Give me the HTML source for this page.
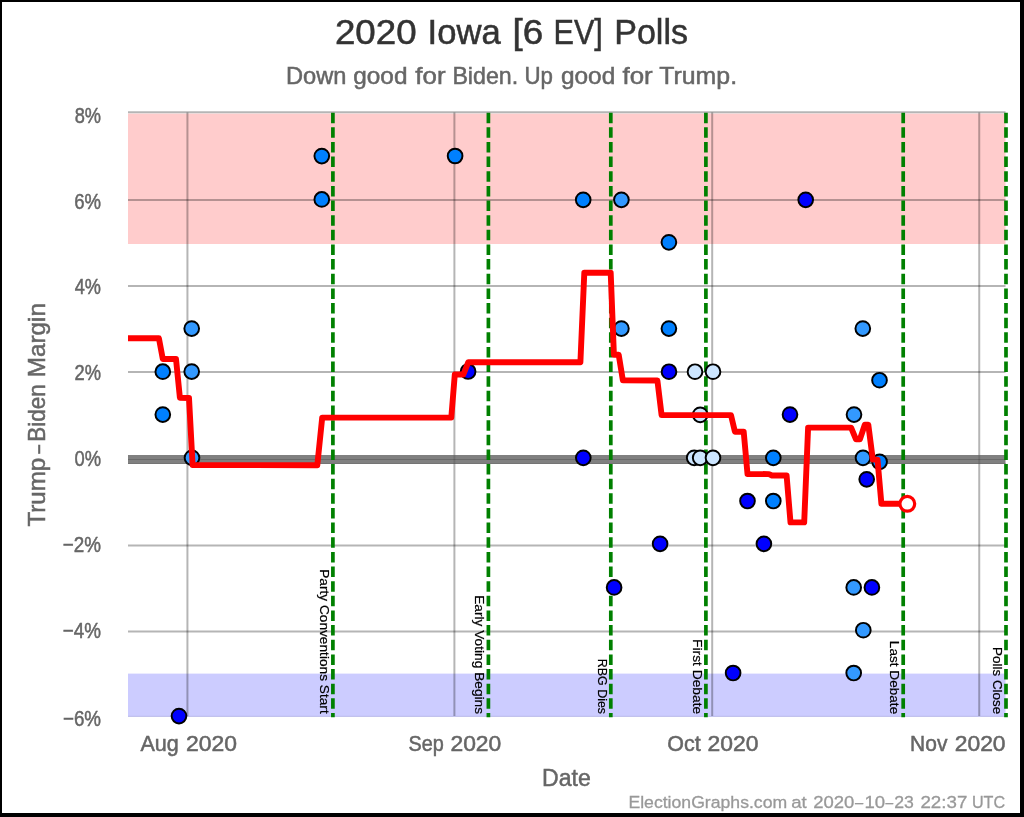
<!DOCTYPE html><html><head><meta charset="utf-8"><style>html,body{margin:0;padding:0;background:#fff;width:1024px;height:817px;overflow:hidden}svg{display:block;will-change:transform;font-family:"Liberation Sans",sans-serif}</style></head><body>
<svg width="1024" height="817" viewBox="0 0 1024 817">
<rect x="0" y="0" width="1024" height="817" fill="#fff"/>
<rect x="128" y="113.6" width="877.5" height="130.4" fill="rgba(255,0,0,0.2)"/>
<rect x="128" y="673.6" width="877.5" height="43.299999999999955" fill="rgba(0,0,255,0.2)"/>
<rect x="128" y="455" width="877.5" height="9" fill="#808080"/>
<rect x="128" y="459" width="877.5" height="1" fill="#6a6a6a"/>
<rect x="128" y="463" width="877.5" height="1" fill="#747474"/>
<line x1="128" y1="200.0" x2="1005.5" y2="200.0" stroke="rgba(0,0,0,0.29)" stroke-width="2"/>
<line x1="128" y1="286.0" x2="1005.5" y2="286.0" stroke="rgba(0,0,0,0.29)" stroke-width="2"/>
<line x1="128" y1="372.0" x2="1005.5" y2="372.0" stroke="rgba(0,0,0,0.29)" stroke-width="2"/>
<line x1="128" y1="545.5" x2="1005.5" y2="545.5" stroke="rgba(0,0,0,0.29)" stroke-width="2"/>
<line x1="128" y1="631.5" x2="1005.5" y2="631.5" stroke="rgba(0,0,0,0.29)" stroke-width="2"/>
<line x1="187.43" y1="112.5" x2="187.43" y2="455" stroke="rgba(0,0,0,0.29)" stroke-width="2"/>
<line x1="187.43" y1="455" x2="187.43" y2="464" stroke="rgba(0,0,0,0.12)" stroke-width="2"/>
<line x1="187.43" y1="464" x2="187.43" y2="716" stroke="rgba(0,0,0,0.29)" stroke-width="2"/>
<line x1="454.4" y1="112.5" x2="454.4" y2="455" stroke="rgba(0,0,0,0.29)" stroke-width="2"/>
<line x1="454.4" y1="455" x2="454.4" y2="464" stroke="rgba(0,0,0,0.12)" stroke-width="2"/>
<line x1="454.4" y1="464" x2="454.4" y2="716" stroke="rgba(0,0,0,0.29)" stroke-width="2"/>
<line x1="712.19" y1="112.5" x2="712.19" y2="455" stroke="rgba(0,0,0,0.29)" stroke-width="2"/>
<line x1="712.19" y1="455" x2="712.19" y2="464" stroke="rgba(0,0,0,0.12)" stroke-width="2"/>
<line x1="712.19" y1="464" x2="712.19" y2="716" stroke="rgba(0,0,0,0.29)" stroke-width="2"/>
<line x1="979.24" y1="112.5" x2="979.24" y2="455" stroke="rgba(0,0,0,0.29)" stroke-width="2"/>
<line x1="979.24" y1="455" x2="979.24" y2="464" stroke="rgba(0,0,0,0.12)" stroke-width="2"/>
<line x1="979.24" y1="464" x2="979.24" y2="716" stroke="rgba(0,0,0,0.29)" stroke-width="2"/>
<line x1="128" y1="112.3" x2="1005.5" y2="112.3" stroke="rgba(0,0,0,0.29)" stroke-width="2"/>
<line x1="128" y1="716.4" x2="1005.5" y2="716.4" stroke="rgba(0,0,0,0.07)" stroke-width="1.2"/>
<line x1="332.9" y1="112.5" x2="332.9" y2="717.2" stroke="#008000" stroke-width="3.7" stroke-dasharray="10.5 4.14" stroke-dashoffset="-0.2"/>
<line x1="488.4" y1="112.5" x2="488.4" y2="717.2" stroke="#008000" stroke-width="3.7" stroke-dasharray="10.5 4.14" stroke-dashoffset="-0.2"/>
<line x1="610.8" y1="112.5" x2="610.8" y2="717.2" stroke="#008000" stroke-width="3.7" stroke-dasharray="10.5 4.14" stroke-dashoffset="-0.2"/>
<line x1="705.9" y1="112.5" x2="705.9" y2="717.2" stroke="#008000" stroke-width="3.7" stroke-dasharray="10.5 4.14" stroke-dashoffset="-0.2"/>
<line x1="903.2" y1="112.5" x2="903.2" y2="717.2" stroke="#008000" stroke-width="3.7" stroke-dasharray="10.5 4.14" stroke-dashoffset="-0.2"/>
<line x1="1006.0" y1="112.5" x2="1006.0" y2="717.2" stroke="#008000" stroke-width="3.7" stroke-dasharray="10.5 4.14" stroke-dashoffset="-0.2"/>
<circle cx="162.8" cy="371.65" r="7.35" fill="#0080ff" stroke="#000" stroke-width="1.95"/>
<circle cx="162.8" cy="414.6" r="7.35" fill="#0080ff" stroke="#000" stroke-width="1.95"/>
<circle cx="191.7" cy="328.6" r="7.35" fill="#3399ff" stroke="#000" stroke-width="1.95"/>
<circle cx="191.7" cy="371.6" r="7.35" fill="#3399ff" stroke="#000" stroke-width="1.95"/>
<circle cx="192" cy="457.8" r="7.35" fill="#3399ff" stroke="#000" stroke-width="1.95"/>
<circle cx="179" cy="716.1" r="7.35" fill="#0000ff" stroke="#000" stroke-width="1.95"/>
<circle cx="321.8" cy="156.1" r="7.35" fill="#0080ff" stroke="#000" stroke-width="1.95"/>
<circle cx="321.8" cy="199.4" r="7.35" fill="#0080ff" stroke="#000" stroke-width="1.95"/>
<circle cx="455.1" cy="156" r="7.35" fill="#0080ff" stroke="#000" stroke-width="1.95"/>
<circle cx="468.1" cy="371.5" r="7.35" fill="#0000ff" stroke="#000" stroke-width="1.95"/>
<circle cx="583.2" cy="199.8" r="7.35" fill="#0080ff" stroke="#000" stroke-width="1.95"/>
<circle cx="583.3" cy="457.8" r="7.35" fill="#0000ff" stroke="#000" stroke-width="1.95"/>
<circle cx="614.1" cy="587.4" r="7.35" fill="#0000ff" stroke="#000" stroke-width="1.95"/>
<circle cx="621.4" cy="199.8" r="7.35" fill="#3399ff" stroke="#000" stroke-width="1.95"/>
<circle cx="621.4" cy="328.6" r="7.35" fill="#3399ff" stroke="#000" stroke-width="1.95"/>
<circle cx="668.9" cy="242.3" r="7.35" fill="#0080ff" stroke="#000" stroke-width="1.95"/>
<circle cx="668.9" cy="328.6" r="7.35" fill="#0080ff" stroke="#000" stroke-width="1.95"/>
<circle cx="669" cy="371.7" r="7.35" fill="#0000ff" stroke="#000" stroke-width="1.95"/>
<circle cx="660.1" cy="543.8" r="7.35" fill="#0000ff" stroke="#000" stroke-width="1.95"/>
<circle cx="695" cy="371.7" r="7.35" fill="#cce5ff" stroke="#000" stroke-width="1.95"/>
<circle cx="713" cy="371.7" r="7.35" fill="#cce5ff" stroke="#000" stroke-width="1.95"/>
<circle cx="700.2" cy="414.8" r="7.35" fill="#cce5ff" stroke="#000" stroke-width="1.95"/>
<circle cx="694.2" cy="457.8" r="7.35" fill="#cce5ff" stroke="#000" stroke-width="1.95"/>
<circle cx="700.2" cy="457.8" r="7.35" fill="#cce5ff" stroke="#000" stroke-width="1.95"/>
<circle cx="713" cy="457.8" r="7.35" fill="#cce5ff" stroke="#000" stroke-width="1.95"/>
<circle cx="733.1" cy="673" r="7.35" fill="#0000ff" stroke="#000" stroke-width="1.95"/>
<circle cx="747.5" cy="501" r="7.35" fill="#0000ff" stroke="#000" stroke-width="1.95"/>
<circle cx="763.9" cy="543.8" r="7.35" fill="#0000ff" stroke="#000" stroke-width="1.95"/>
<circle cx="773.3" cy="457.8" r="7.35" fill="#0080ff" stroke="#000" stroke-width="1.95"/>
<circle cx="773.3" cy="501" r="7.35" fill="#0080ff" stroke="#000" stroke-width="1.95"/>
<circle cx="790" cy="414.6" r="7.35" fill="#0000ff" stroke="#000" stroke-width="1.95"/>
<circle cx="805.7" cy="199.8" r="7.35" fill="#0000ff" stroke="#000" stroke-width="1.95"/>
<circle cx="854" cy="414.6" r="7.35" fill="#3399ff" stroke="#000" stroke-width="1.95"/>
<circle cx="853.7" cy="587.4" r="7.35" fill="#3399ff" stroke="#000" stroke-width="1.95"/>
<circle cx="853.7" cy="673" r="7.35" fill="#3399ff" stroke="#000" stroke-width="1.95"/>
<circle cx="862.8" cy="328.6" r="7.35" fill="#3399ff" stroke="#000" stroke-width="1.95"/>
<circle cx="863" cy="457.8" r="7.35" fill="#3399ff" stroke="#000" stroke-width="1.95"/>
<circle cx="863.3" cy="630.2" r="7.35" fill="#3399ff" stroke="#000" stroke-width="1.95"/>
<circle cx="866.7" cy="479.3" r="7.35" fill="#0000ff" stroke="#000" stroke-width="1.95"/>
<circle cx="871.9" cy="587.4" r="7.35" fill="#0000ff" stroke="#000" stroke-width="1.95"/>
<circle cx="879.5" cy="380.2" r="7.35" fill="#0080ff" stroke="#000" stroke-width="1.95"/>
<circle cx="879.6" cy="461.8" r="7.35" fill="#0080ff" stroke="#000" stroke-width="1.95"/>
<polyline points="128,338.2 158.9,338.2 162.8,359.0 176,359.0 179.9,397.8 189,398.0 192.6,465.0 317.3,465.3 322.2,417.6 451.3,417.6 454.8,374.5 463.4,374.5 468.3,362.2 580.4,362.2 584.3,272.8 610.7,272.8 613.9,354.7 618.7,354.8 622.9,380.4 657.4,380.5 661.6,415.1 731,415.1 734.9,431.7 743.7,431.7 747.5,474.0 769,474.1 772,475.5 786.6,475.5 790.5,522.4 804.2,522.4 808.1,427.6 851.1,427.6 856,439.4 859.9,439.4 864.8,424.7 868.3,424.7 872.8,459.6 877.5,459.6 881.4,503.8 901.9,503.8" fill="none" stroke="#ff0000" stroke-width="5.9" stroke-linejoin="round" stroke-linecap="butt"/>
<circle cx="907.3" cy="503.8" r="7.4" fill="#fff" stroke="#ff0000" stroke-width="3.2"/>
<text transform="translate(319.9,0) rotate(90)" x="569.18" y="0" font-size="13.4" fill="#000" stroke="#000" stroke-width="0.2" textLength="144.52" lengthAdjust="spacingAndGlyphs">Party Conventions Start</text>
<text transform="translate(475.4,0) rotate(90)" x="595.18" y="0" font-size="13.4" fill="#000" stroke="#000" stroke-width="0.2" textLength="118.91" lengthAdjust="spacingAndGlyphs">Early Voting Begins</text>
<text transform="translate(597.8,0) rotate(90)" x="658.78" y="0" font-size="13.4" fill="#000" stroke="#000" stroke-width="0.2" textLength="55.27" lengthAdjust="spacingAndGlyphs">RBG Dies</text>
<text transform="translate(692.9,0) rotate(90)" x="639.07" y="0" font-size="13.4" fill="#000" stroke="#000" stroke-width="0.2" textLength="75.14" lengthAdjust="spacingAndGlyphs">First Debate</text>
<text transform="translate(890.2,0) rotate(90)" x="640.88" y="0" font-size="13.4" fill="#000" stroke="#000" stroke-width="0.2" textLength="73.32" lengthAdjust="spacingAndGlyphs">Last Debate</text>
<text transform="translate(993.0,0) rotate(90)" x="647.1" y="0" font-size="13.4" fill="#000" stroke="#000" stroke-width="0.2" textLength="67.1" lengthAdjust="spacingAndGlyphs">Polls Close</text>
<text x="334.95" y="43.5" font-size="34.6" fill="#333" stroke="#333" stroke-width="0.5" textLength="81.68" lengthAdjust="spacingAndGlyphs">2020</text><text x="427.6" y="43.5" font-size="34.6" fill="#333" stroke="#333" stroke-width="0.5" textLength="73.2" lengthAdjust="spacingAndGlyphs">Iowa</text><text x="512.57" y="43.5" font-size="34.6" fill="#333" stroke="#333" stroke-width="0.5" textLength="30.75" lengthAdjust="spacingAndGlyphs">[6</text><text x="553.49" y="43.5" font-size="34.6" fill="#333" stroke="#333" stroke-width="0.5" textLength="49.29" lengthAdjust="spacingAndGlyphs">EV]</text><text x="614.21" y="43.5" font-size="34.6" fill="#333" stroke="#333" stroke-width="0.5" textLength="73.82" lengthAdjust="spacingAndGlyphs">Polls</text>
<text x="285.96" y="83.75" font-size="23.4" fill="#666" stroke="#666" stroke-width="0.5" textLength="60.48" lengthAdjust="spacingAndGlyphs">Down</text><text x="353.28" y="83.75" font-size="23.4" fill="#666" stroke="#666" stroke-width="0.5" textLength="54.19" lengthAdjust="spacingAndGlyphs">good</text><text x="415.33" y="83.75" font-size="23.4" fill="#666" stroke="#666" stroke-width="0.5" textLength="30.2" lengthAdjust="spacingAndGlyphs">for</text><text x="452.4" y="83.75" font-size="23.4" fill="#666" stroke="#666" stroke-width="0.5" textLength="65.72" lengthAdjust="spacingAndGlyphs">Biden.</text><text x="524.48" y="83.75" font-size="23.4" fill="#666" stroke="#666" stroke-width="0.5" textLength="28.45" lengthAdjust="spacingAndGlyphs">Up</text><text x="560.98" y="83.75" font-size="23.4" fill="#666" stroke="#666" stroke-width="0.5" textLength="54.3" lengthAdjust="spacingAndGlyphs">good</text><text x="622.53" y="83.75" font-size="23.4" fill="#666" stroke="#666" stroke-width="0.5" textLength="30.2" lengthAdjust="spacingAndGlyphs">for</text><text x="659.25" y="83.75" font-size="23.4" fill="#666" stroke="#666" stroke-width="0.5" textLength="77.79" lengthAdjust="spacingAndGlyphs">Trump.</text>
<text x="74.71" y="122.65" font-size="21.8" fill="#666" stroke="#666" stroke-width="0.5" textLength="26.34" lengthAdjust="spacingAndGlyphs">8%</text>
<text x="74.26" y="208.65" font-size="21.8" fill="#666" stroke="#666" stroke-width="0.5" textLength="26.8" lengthAdjust="spacingAndGlyphs">6%</text>
<text x="74.78" y="294.25" font-size="21.8" fill="#666" stroke="#666" stroke-width="0.5" textLength="26.26" lengthAdjust="spacingAndGlyphs">4%</text>
<text x="74.58" y="380.15" font-size="21.8" fill="#666" stroke="#666" stroke-width="0.5" textLength="26.47" lengthAdjust="spacingAndGlyphs">2%</text>
<text x="74.48" y="466.25" font-size="21.8" fill="#666" stroke="#666" stroke-width="0.5" textLength="26.57" lengthAdjust="spacingAndGlyphs">0%</text>
<text x="62.87" y="551.95" font-size="21.8" fill="#666" stroke="#666" stroke-width="0.5" textLength="38.2" lengthAdjust="spacingAndGlyphs">−2%</text>
<text x="62.87" y="637.95" font-size="21.8" fill="#666" stroke="#666" stroke-width="0.5" textLength="38.2" lengthAdjust="spacingAndGlyphs">−4%</text>
<text x="62.97" y="725.95" font-size="21.8" fill="#666" stroke="#666" stroke-width="0.5" textLength="38.09" lengthAdjust="spacingAndGlyphs">−6%</text>
<text x="140.46" y="751.0" font-size="21.3" fill="#666" stroke="#666" stroke-width="0.5" textLength="38.33" lengthAdjust="spacingAndGlyphs">Aug</text><text x="185.95" y="751.0" font-size="21.3" fill="#666" stroke="#666" stroke-width="0.5" textLength="50.95" lengthAdjust="spacingAndGlyphs">2020</text>
<text x="408.55" y="751.0" font-size="21.3" fill="#666" stroke="#666" stroke-width="0.5" textLength="35.28" lengthAdjust="spacingAndGlyphs">Sep</text><text x="450.45" y="751.0" font-size="21.3" fill="#666" stroke="#666" stroke-width="0.5" textLength="50.84" lengthAdjust="spacingAndGlyphs">2020</text>
<text x="667.38" y="751.0" font-size="21.3" fill="#666" stroke="#666" stroke-width="0.5" textLength="33.37" lengthAdjust="spacingAndGlyphs">Oct</text><text x="707.55" y="751.0" font-size="21.3" fill="#666" stroke="#666" stroke-width="0.5" textLength="50.95" lengthAdjust="spacingAndGlyphs">2020</text>
<text x="910.08" y="751.0" font-size="21.3" fill="#666" stroke="#666" stroke-width="0.5" textLength="37.29" lengthAdjust="spacingAndGlyphs">Nov</text><text x="954.75" y="751.0" font-size="21.3" fill="#666" stroke="#666" stroke-width="0.5" textLength="50.84" lengthAdjust="spacingAndGlyphs">2020</text>
<text x="542.11" y="785.6" font-size="23.3" fill="#666" stroke="#666" stroke-width="0.5" textLength="48.72" lengthAdjust="spacingAndGlyphs">Date</text>
<text transform="translate(44.5,0) rotate(-90)" x="-526.53" y="0" font-size="23.4" fill="#666" stroke="#666" stroke-width="0.5" textLength="68.73" lengthAdjust="spacingAndGlyphs">Trump</text>
<text transform="translate(44.5,0) rotate(-90)" x="-453.6" y="0" font-size="23.4" fill="#666" stroke="#666" stroke-width="0.5" textLength="8.61" lengthAdjust="spacingAndGlyphs">–</text>
<text transform="translate(44.5,0) rotate(-90)" x="-441.84" y="0" font-size="23.4" fill="#666" stroke="#666" stroke-width="0.5" textLength="57.5" lengthAdjust="spacingAndGlyphs">Biden</text>
<text transform="translate(44.5,0) rotate(-90)" x="-377.29" y="0" font-size="23.4" fill="#666" stroke="#666" stroke-width="0.5" textLength="74.17" lengthAdjust="spacingAndGlyphs">Margin</text>
<text x="628.45" y="807.5" font-size="17.2" fill="#999" stroke="#999" stroke-width="0.3" textLength="158.71" lengthAdjust="spacingAndGlyphs">ElectionGraphs.com</text><text x="791.21" y="807.5" font-size="17.2" fill="#999" stroke="#999" stroke-width="0.3" textLength="15.53" lengthAdjust="spacingAndGlyphs">at</text><text x="813.17" y="807.5" font-size="17.2" fill="#999" stroke="#999" stroke-width="0.3" textLength="41.15" lengthAdjust="spacingAndGlyphs">2020</text><text x="855.1" y="807.5" font-size="17.2" fill="#999" stroke="#999" stroke-width="0.3" textLength="8.21" lengthAdjust="spacingAndGlyphs">–</text><text x="864.49" y="807.5" font-size="17.2" fill="#999" stroke="#999" stroke-width="0.3" textLength="20.64" lengthAdjust="spacingAndGlyphs">10</text><text x="885.4" y="807.5" font-size="17.2" fill="#999" stroke="#999" stroke-width="0.3" textLength="7.71" lengthAdjust="spacingAndGlyphs">–</text><text x="894.21" y="807.5" font-size="17.2" fill="#999" stroke="#999" stroke-width="0.3" textLength="19.67" lengthAdjust="spacingAndGlyphs">23</text><text x="920.46" y="807.5" font-size="17.2" fill="#999" stroke="#999" stroke-width="0.3" textLength="46.88" lengthAdjust="spacingAndGlyphs">22:37</text><text x="971.96" y="807.5" font-size="17.2" fill="#999" stroke="#999" stroke-width="0.3" textLength="33.16" lengthAdjust="spacingAndGlyphs">UTC</text>
<rect x="0" y="0" width="1024" height="2" fill="#000"/><rect x="0" y="0" width="2" height="817" fill="#000"/><rect x="1020" y="0" width="4" height="817" fill="#000"/><rect x="0" y="813" width="1024" height="4" fill="#000"/>
</svg></body></html>
